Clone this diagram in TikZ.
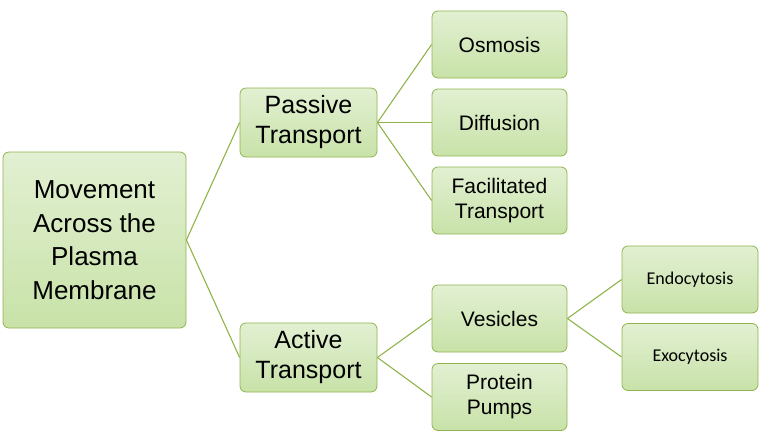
\documentclass[tikz,border=0pt]{standalone}
\usepackage{fontspec}
\setmainfont{Liberation Sans}
\newfontfamily\carlitofont{Carlito}
\begin{document}
\begin{tikzpicture}[x=1pt,y=-1pt,
  box/.style={draw={rgb,255:red,143;green,180;blue,80}, line width=0.8pt, rounded corners=6pt,
    top color={rgb,255:red,226;green,240;blue,210}, bottom color={rgb,255:red,200;green,226;blue,168}, align=center, inner sep=0pt},
  link/.style={draw={rgb,255:red,143;green,180;blue,74}, line width=1.1pt}]
\useasboundingbox (0,0) rectangle (768,442);
\node[box, minimum width=183, minimum height=176, font=\fontsize{26}{33.5}\selectfont] (root) at (94.5,240) {Movement\\Across the\\Plasma\\Membrane};
\node[box, minimum width=137, minimum height=69, font=\fontsize{25}{30}\selectfont] (pas) at (308.5,122.5) {Passive\\Transport};
\node[box, minimum width=137, minimum height=69, font=\fontsize{25}{30}\selectfont] (act) at (308.5,357.5) {Active\\Transport};
\foreach \n/\y/\t in {osm/44.5/Osmosis, dif/122.5/Diffusion, fac/200.5/{Facilitated\\Transport}, ves/318.5/Vesicles, pro/397/{Protein\\Pumps}}
  \node[box, minimum width=135, minimum height=67, font=\fontsize{21}{25}\selectfont] (\n) at (499.5,\y) {\t};
\node[box, minimum width=136, minimum height=67, font=\carlitofont\fontsize{18}{20}\selectfont] (endo) at (690,279.5) {Endocytosis};
\node[box, minimum width=136, minimum height=67, font=\carlitofont\fontsize{18}{20}\selectfont] (exo) at (690,357) {Exocytosis};
\draw[link] (root.east) -- (pas.west);
\draw[link] (root.east) -- (act.west);
\foreach \c in {osm,dif,fac} \draw[link] (pas.east) -- (\c.west);
\foreach \c in {ves,pro} \draw[link] (act.east) -- (\c.west);
\foreach \c in {endo,exo} \draw[link] (ves.east) -- (\c.west);
\end{tikzpicture}
\end{document}
